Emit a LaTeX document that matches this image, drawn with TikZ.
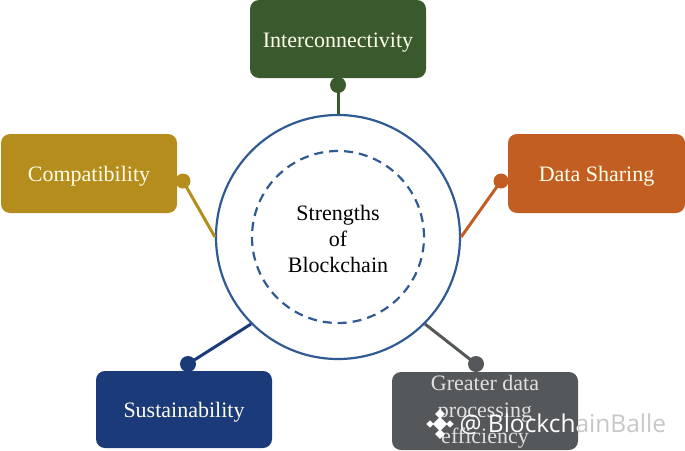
\documentclass[tikz,border=0pt]{standalone}
\usepackage{fontspec}
\setmainfont{Liberation Serif}
\newfontfamily\wmfont{Open Sans}
\definecolor{cgreen}{HTML}{3A5A2E}
\definecolor{cgold}{HTML}{B58D1D}
\definecolor{corange}{HTML}{C25E22}
\definecolor{cnavy}{HTML}{1B3A7A}
\definecolor{cgrey}{HTML}{55585B}
\definecolor{cring}{HTML}{2F5A93}
\newcommand{\lowered}[1]{\raisebox{-8pt}[0pt][0pt]{#1}}
\tikzset{
  card/.style={rounded corners=9pt,minimum height=78pt,text=white!92!yellow,font=\fontsize{22}{24}\selectfont,align=center,inner sep=0pt},
  dot/.style={circle,inner sep=0pt,minimum size=#1},
  link/.style={line width=3pt},
  mark dot/.style={rotate=45,fill=white,inner sep=0pt,minimum size=#1}
}
\begin{document}
\begin{tikzpicture}[x=1pt,y=-1pt]
\useasboundingbox (0,0) rectangle (685,450);
\node[circle,draw=cring,line width=2.2pt,minimum size=244pt,inner sep=0pt] (hub) at (338,237) {};
\node[circle,draw=cring,line width=2.2pt,dash pattern=on 9pt off 6pt,minimum size=172pt,inner sep=0pt] (inner) at (338,237) {};
\node[font=\fontsize{22}{26}\selectfont,align=center] (title) at (338,239) {Strengths\\of\\Blockchain};
% cards
\node[card,fill=cgreen,minimum width=176pt] (a) at (338,39) {\lowered{Interconnectivity}};
\node[card,fill=cgold,minimum width=176pt,minimum height=79pt] (b) at (89,173.5) {\lowered{Compatibility}};
\node[card,fill=corange,minimum width=177pt,minimum height=79pt] (c) at (596.5,173.5) {\lowered{Data Sharing}};
\node[card,fill=cnavy,minimum width=176pt,minimum height=77pt] (d) at (184,409.5) {\lowered{Sustainability}};
\node[card,fill=cgrey,minimum width=186pt,minimum height=78pt] (e) at (485,411) {};
% dots
\node[dot=16pt,fill=cgreen] (da) at (338,85) {};
\node[dot=15pt,fill=cgold] (db) at (183,181) {};
\node[dot=15pt,fill=corange] (dc) at (501,181) {};
\node[dot=16pt,fill=cnavy] (dd) at (188,364) {};
\node[dot=16pt,fill=cgrey] (de) at (476,364) {};
% connectors
\draw[link,draw=cgreen] (da.center) -- (hub.90);
\draw[link,draw=cgold] (db.center) -- (hub.180);
\draw[link,draw=corange] (dc.center) -- (hub.0);
\draw[link,draw=cnavy] (dd.center) -- (hub.225);
\draw[link,draw=cgrey] (de.center) -- (hub.315);
% grey card text
\node[text=white!88!black,font=\fontsize{22}{26.5}\selectfont,align=center] (et) at (485,412) {Greater data\\processing\\efficiency};
% watermark
\begin{scope}
\clip (392,371) rectangle (578,450);
\node[anchor=west,text=white,font=\wmfont\fontsize{24.5}{27}\selectfont] (wm) at (456,424) {@ BlockchainBalle};
\end{scope}
\begin{scope}
\clip (578,371) rectangle (685,450);
\node[anchor=west,text=black!22,font=\wmfont\fontsize{24.5}{27}\selectfont] (wm2) at (456,424) {@ BlockchainBalle};
\end{scope}
\node[mark dot=10pt] (k1) at (440,424) {};
\node[mark dot=5pt] (k2) at (430,424) {};
\node[mark dot=5pt] (k3) at (450,424) {};
\node[mark dot=7pt] (k4) at (440,414) {};
\node[mark dot=7pt] (k5) at (440,434) {};
\end{tikzpicture}
\end{document}
